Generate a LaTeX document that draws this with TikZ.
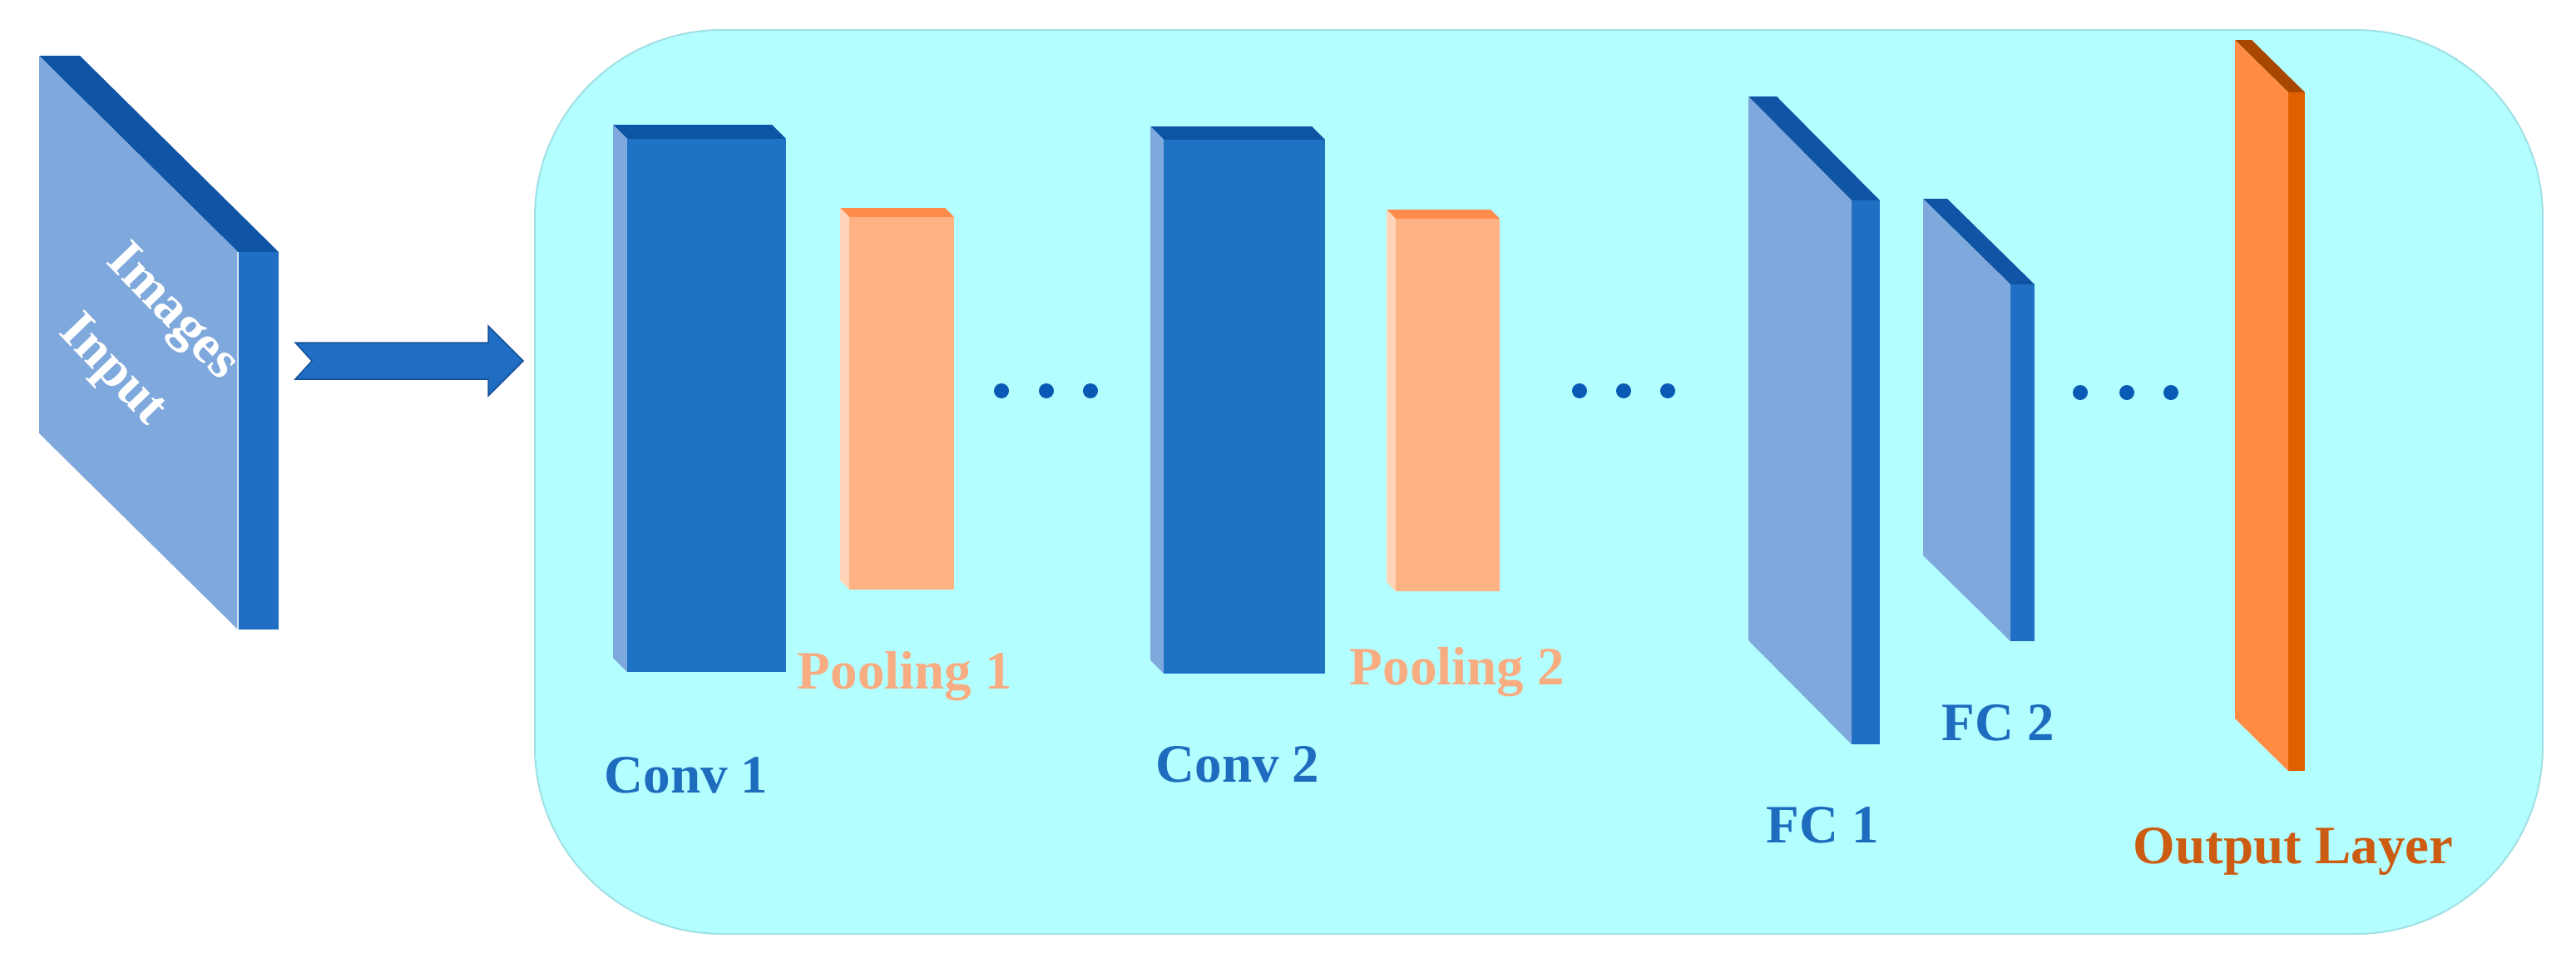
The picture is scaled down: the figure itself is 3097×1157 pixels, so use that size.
\documentclass[tikz,border=0pt]{standalone}
\usepackage{fontspec}
\setmainfont{Liberation Serif}
\usetikzlibrary{calc,fit}
\definecolor{bgcyan}{RGB}{179,255,255}
\definecolor{bgedge}{RGB}{160,224,228}
\definecolor{convfront}{RGB}{31,115,196}
\definecolor{convtop}{RGB}{14,84,165}
\definecolor{convleft}{RGB}{127,168,220}
\definecolor{poolfront}{RGB}{255,178,132}
\definecolor{pooltop}{RGB}{255,140,74}
\definecolor{poolleft}{RGB}{255,212,184}
\definecolor{bluefront}{RGB}{127,168,220}
\definecolor{bluestrip}{RGB}{16,84,165}
\definecolor{blueside}{RGB}{31,112,196}
\definecolor{orfront}{RGB}{255,140,66}
\definecolor{orstrip}{RGB}{168,72,0}
\definecolor{orside}{RGB}{224,96,0}
\definecolor{dotblue}{RGB}{8,90,180}
\definecolor{lblblue}{RGB}{30,108,190}
\definecolor{lblpeach}{RGB}{248,172,130}
\definecolor{lblorange}{RGB}{204,92,18}
\definecolor{arrowfill}{RGB}{31,110,196}
\definecolor{arrowline}{RGB}{22,78,150}
% cuboid: name, x0, y0, x1, y1 (front face), depth, front, top, left colours
\newcommand\cuboidbox[9]{%
  \fill[#8] (#2,#3) -- (#2-#6,#3-#6) -- (#4-#6,#3-#6) -- (#4,#3) -- cycle;
  \fill[#9] (#2,#3) -- (#2-#6,#3-#6) -- (#2-#6,#5-#6) -- (#2,#5) -- cycle;
  \node[fit={(#2,#3) (#4,#5)}, inner sep=0pt, fill=#7] (#1) {};
}
% slab: name, x0, y0, xf, drop, ybottom, thickness, colour prefix
\newcommand\slabshape[8]{%
  \fill[#8strip] (#2,#3) -- (#2+#7,#3) -- (#4+#7,#3+#5) -- (#4,#3+#5) -- cycle;
  \fill[#8side] (#4,#3+#5) -- (#4+#7,#3+#5) -- (#4+#7,#6) -- (#4,#6) -- cycle;
  \fill[#8front] (#2,#3) -- (#4,#3+#5) -- (#4,#6) -- (#2,#6-#5) -- cycle;
  \coordinate (#1) at ({(#2+#4+#7)/2},{(#3+#6)/2});
}
\begin{document}
\begin{tikzpicture}[x=1pt,y=-1pt,
  lbl/.style={font=\fontsize{65}{78}\selectfont\bfseries, inner sep=0pt, anchor=base},
  dotmark/.style={fill=dotblue}]
\useasboundingbox (0,0) rectangle (3097,1157);
\fill[white] (0,0) rectangle (3097,1157);

% container
\node[draw=bgedge, line width=2pt, fill=bgcyan, rounded corners=225pt,
      minimum width=2414pt, minimum height=1087pt, inner sep=0pt] (frame) at (1850,579.5) {};

% input slab
\slabshape{inp}{47}{67}{286}{236}{757}{49}{blue}
\draw[white!70!bluefront, line width=1.5pt] (286,303) -- (286,757);
\node[font=\fontsize{65}{100}\selectfont\bfseries, text=white, rotate=-46,
      align=center, inner sep=0pt] (intxt) at (170,412) {Images\\Input};

% arrow
\coordinate (atail) at (355,434);
\coordinate (atip) at (629,434);
\filldraw[fill=arrowfill, draw=arrowline, line width=1.5pt]
  ($(atail)+(0,-22)$) -- ($(atip)+(-42,-22)$) -- ($(atip)+(-42,-42)$) -- (atip)
  -- ($(atip)+(-42,42)$) -- ($(atip)+(-42,22)$) -- ($(atail)+(0,22)$)
  -- ($(atail)+(20,0)$) -- cycle;

% conv / pool boxes
\cuboidbox{conv1}{754}{167}{945}{808}{17}{convfront}{convtop}{convleft}
\cuboidbox{pool1}{1021}{261}{1147}{709}{11}{poolfront}{pooltop}{poolleft}
\cuboidbox{conv2}{1399}{168}{1593}{810}{16}{convfront}{convtop}{convleft}
\cuboidbox{pool2}{1678}{263}{1803}{711}{11}{poolfront}{pooltop}{poolleft}

% dots
\foreach \x in {1204,1258,1311} \fill[dotmark] (\x,470) circle (9pt);
\foreach \x in {1899,1952,2005} \fill[dotmark] (\x,470) circle (9pt);
\foreach \x in {2501,2557,2610} \fill[dotmark] (\x,472) circle (9pt);

% fully connected + output
\slabshape{fc1}{2102}{116}{2226}{125}{895}{34}{blue}
\slabshape{fc2}{2312}{239}{2417}{103}{771}{29}{blue}
\slabshape{outl}{2687}{48}{2751}{63}{927}{20}{or}

% labels
\node[lbl, text=lblblue] (lconv1) at (825,953) {Conv 1};
\node[lbl, text=lblpeach] (lpool1) at (1088,828) {Pooling 1};
\node[lbl, text=lblblue] (lconv2) at (1488,940) {Conv 2};
\node[lbl, text=lblpeach] (lpool2) at (1752,823) {Pooling 2};
\node[lbl, text=lblblue] (lfc1) at (2191,1013) {FC 1};
\node[lbl, text=lblblue] (lfc2) at (2402,890) {FC 2};
\node[lbl, text=lblorange] (lout) at (2757,1038) {Output Layer};
\end{tikzpicture}
\end{document}
